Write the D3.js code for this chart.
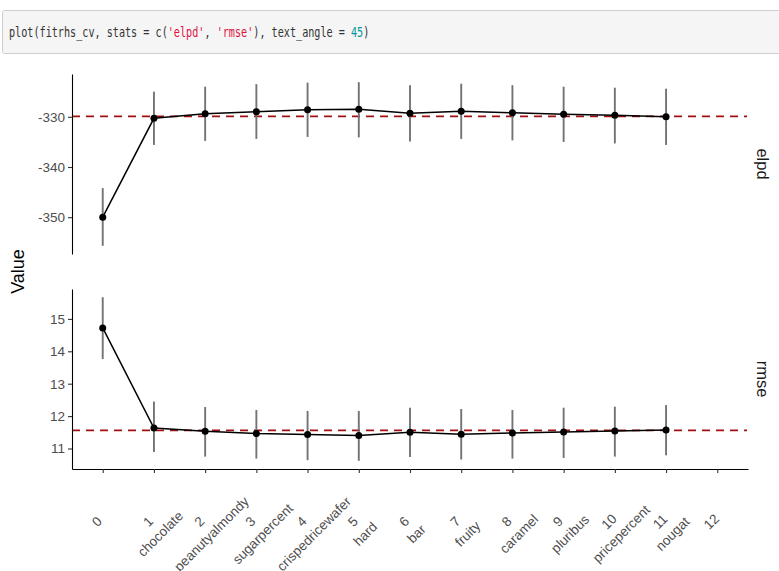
<!DOCTYPE html>
<html>
<head>
<meta charset="utf-8">
<script src="https://cdn.jsdelivr.net/npm/d3@7"></script>
<style>
  html, body { margin: 0; padding: 0; background: #fff; }
  svg { display: block; }
</style>
</head>
<body>
<svg id="chart" width="779" height="571"></svg>
<script>
// ---- data ----
const sizes = [0, 1, 2, 3, 4, 5, 6, 7, 8, 9, 10, 11, 12];
const varNames = ["", "chocolate", "peanutyalmondy", "sugarpercent", "crispedricewafer", "hard", "bar", "fruity", "caramel", "pluribus", "pricepercent", "nougat", ""];
const modelSizes = [0, 1, 2, 3, 4, 5, 6, 7, 8, 9, 10, 11];

const elpdValue = [-350.0, -330.3, -329.4, -329.0, -328.6, -328.5, -329.3, -328.9, -329.2, -329.5, -329.7, -330.0];
const elpdLower = [-355.7, -335.6, -334.8, -334.4, -334.0, -334.1, -334.9, -334.4, -334.7, -335.0, -335.3, -335.6];
const elpdUpper = [-344.2, -325.0, -324.0, -323.5, -323.2, -323.1, -323.7, -323.4, -323.7, -324.0, -324.2, -324.4];
const elpdRef = -329.9;
const elpdTicks = [-350, -340, -330];

const rmseValue = [14.72, 11.63, 11.53, 11.46, 11.43, 11.40, 11.50, 11.44, 11.48, 11.51, 11.54, 11.57];
const rmseLower = [13.76, 10.89, 10.75, 10.69, 10.64, 10.62, 10.74, 10.66, 10.69, 10.71, 10.75, 10.79];
const rmseUpper = [15.67, 12.45, 12.28, 12.19, 12.16, 12.16, 12.26, 12.22, 12.19, 12.26, 12.29, 12.34];
const rmseRef = 11.56;
const rmseTicks = [11, 12, 13, 14, 15];

const codeParts = [
  ["plot(fitrhs_cv, stats = c(", "#333"],
  ["'elpd'", "#dd1144"],
  [", ", "#333"],
  ["'rmse'", "#dd1144"],
  ["), text_angle = ", "#333"],
  ["45", "#009999"],
  [")", "#333"]
];

// ---- drawing ----
const svg = d3.select("#chart");
const FONT = "'Liberation Sans', Arial, Helvetica, sans-serif";

// code cell
svg.append("rect").attr("x", 2.5).attr("y", 10.5).attr("width", 790).attr("height", 43)
  .attr("rx", 2).attr("fill", "#f5f5f5").attr("stroke", "#cfcfcf");
const codeG = svg.append("g").attr("transform", "translate(9,36.5) scale(0.735,1)");
const codeText = codeG.append("text").attr("x", 0).attr("y", 0)
  .attr("font-family", "'DejaVu Sans Mono', 'Liberation Mono', monospace")
  .attr("font-size", 13.8);
codeParts.forEach(([t, c]) => codeText.append("tspan").attr("fill", c).text(t));

const left = 72, right = 748;
const x = d3.scaleLinear().domain([-0.6, 12.6]).range([left, right]);

function expanded(lo, hi) {
  const mn = d3.min(lo), mx = d3.max(hi), pad = (mx - mn) * 0.05;
  return [mn - pad, mx + pad];
}

const panels = [
  { name: "elpd", value: elpdValue, lower: elpdLower, upper: elpdUpper, ref: elpdRef, ticks: elpdTicks, top: 74, bottom: 254 },
  { name: "rmse", value: rmseValue, lower: rmseLower, upper: rmseUpper, ref: rmseRef, ticks: rmseTicks, top: 289, bottom: 469 }
];

panels.forEach(p => {
  const y = d3.scaleLinear().domain(expanded(p.lower, p.upper)).range([p.bottom, p.top]);
  const g = svg.append("g");

  // reference line
  g.append("line").attr("x1", left).attr("x2", right - 1).attr("y1", y(p.ref)).attr("y2", y(p.ref))
    .attr("stroke", "#a01010").attr("stroke-width", 1.8).attr("stroke-dasharray", "8,6");

  // error bars
  g.selectAll(".eb").data(modelSizes).join("line")
    .attr("x1", d => x(d)).attr("x2", d => x(d))
    .attr("y1", (d, i) => y(p.lower[i])).attr("y2", (d, i) => y(p.upper[i]))
    .attr("stroke", "#737373").attr("stroke-width", 1.9);

  // line
  const line = d3.line().x((d, i) => x(d)).y((d, i) => y(p.value[i]));
  g.append("path").datum(modelSizes).attr("d", line)
    .attr("fill", "none").attr("stroke", "#000").attr("stroke-width", 1.5);

  // points
  g.selectAll(".pt").data(modelSizes).join("circle")
    .attr("cx", d => x(d)).attr("cy", (d, i) => y(p.value[i])).attr("r", 3.5).attr("fill", "#000");

  // y axis
  const ax = svg.append("g").attr("transform", `translate(${left},0)`)
    .call(d3.axisLeft(y).tickValues(p.ticks).tickSize(4).tickSizeOuter(0).tickPadding(3)
      .tickFormat(d => d < 0 ? "-" + Math.abs(d) : d));
  ax.select(".domain").attr("stroke", "#000").attr("stroke-width", 1.1);
  ax.selectAll(".tick line").attr("stroke", "#333").attr("stroke-width", 1.1);
  ax.selectAll(".tick text").attr("fill", "#4d4d4d").attr("font-size", 13.5).attr("font-family", FONT);

  // strip label
  svg.append("text")
    .attr("transform", `translate(763,${(p.top + p.bottom) / 2}) rotate(90)`)
    .attr("text-anchor", "middle").attr("dominant-baseline", "central")
    .attr("font-family", FONT).attr("font-size", 16.5).attr("fill", "#1a1a1a")
    .text(p.name);
});

// x axis
const xa = svg.append("g").attr("transform", "translate(0,469)")
  .call(d3.axisBottom(x).tickValues(sizes).tickSize(4).tickSizeOuter(0).tickFormat(""));
xa.select(".domain").attr("stroke", "#000").attr("stroke-width", 1.1);
xa.selectAll(".tick line").attr("stroke", "#333").attr("stroke-width", 1.1);

const labs = svg.append("g").selectAll("g").data(sizes).join("g")
  .attr("transform", d => `translate(${x(d)},527.5) rotate(-45)`);
const lt = labs.append("text").attr("text-anchor", "middle").attr("dominant-baseline", "central")
  .attr("font-family", FONT).attr("font-size", 13.5).attr("fill", "#4d4d4d");
lt.append("tspan").attr("x", 0).attr("y", -8.7).text(d => d);
lt.append("tspan").attr("x", 0).attr("y", 8.7).text((d, i) => varNames[i]);

// y title
svg.append("text").attr("transform", "translate(18,271.5) rotate(-90)")
  .attr("text-anchor", "middle").attr("dominant-baseline", "central")
  .attr("font-family", FONT).attr("font-size", 18).attr("fill", "#000").text("Value");
</script>
</body>
</html>
